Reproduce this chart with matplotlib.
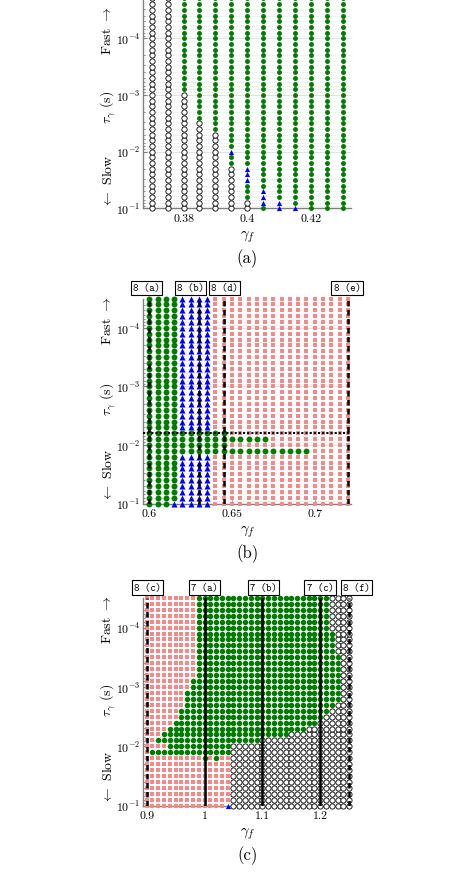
import numpy as np
import matplotlib
matplotlib.use("Agg")
import matplotlib.pyplot as plt
import matplotlib.transforms as mtransforms
from matplotlib.ticker import FixedLocator, FixedFormatter, LogLocator, NullFormatter

plt.rcParams["font.family"] = ["cmr10", "DejaVu Serif"]
plt.rcParams["mathtext.fontset"] = "cm"
plt.rcParams["axes.formatter.use_mathtext"] = True
plt.rcParams["axes.unicode_minus"] = False

GREEN = "#007d00"
BLUE = "#0000ff"
PINK = "#f28a8a"

# gamma_f columns of each sweep
GAMMA_A = [0.370, 0.375, 0.380, 0.385, 0.390, 0.395, 0.400, 0.405, 0.410,
           0.415, 0.420, 0.425, 0.430]
GAMMA_B = [0.600, 0.605, 0.610, 0.615, 0.620, 0.625, 0.630, 0.635, 0.640,
           0.645, 0.650, 0.655, 0.660, 0.665, 0.670, 0.675, 0.680, 0.685,
           0.690, 0.695, 0.700, 0.705, 0.710, 0.715, 0.720]
GAMMA_C = [0.90, 0.91, 0.92, 0.93, 0.94, 0.95, 0.96, 0.97, 0.98, 0.99,
           1.00, 1.01, 1.02, 1.03, 1.04, 1.05, 1.06, 1.07, 1.08, 1.09,
           1.10, 1.11, 1.12, 1.13, 1.14, 1.15, 1.16, 1.17, 1.18, 1.19,
           1.20, 1.21, 1.22, 1.23, 1.24, 1.25]

# tau_gamma rows (log10 of seconds), bottom row first
TAU_EXP_BC = [-1.0, -1.1, -1.2, -1.3, -1.4, -1.5, -1.6, -1.7, -1.8, -1.9,
              -2.0, -2.1, -2.2, -2.3, -2.4, -2.5, -2.6, -2.7, -2.8, -2.9,
              -3.0, -3.1, -3.2, -3.3, -3.4, -3.5, -3.6, -3.7, -3.8, -3.9,
              -4.0, -4.1, -4.2, -4.3, -4.4, -4.5]
TAU_EXP_A = TAU_EXP_BC + [-4.6, -4.7]

# outcome maps, top row first: (number of rows, states per column)
# o = open circle, g = green dot, b = blue triangle, p = pink square
MAP_A = [
    (17, "ooggggggggggg"),
    (5, "ooogggggggggg"),
    (2, "ooooggggggggg"),
    (3, "ooooogggggggg"),
    (1, "ooooobggggggg"),
    (2, "ooooogggggggg"),
    (3, "oooooobgggggg"),
    (1, "ooooooggggggg"),
    (2, "oooooogbggggg"),
    (1, "ooooooobbgggg"),
    (1, "ooooooogbbggg"),
]
MAP_B = [
    (23, "gggg" + "bbbb" + "p" * 17),
    (1, "g" * 10 + "p" * 15),
    (1, "g" * 15 + "p" * 10),
    (1, "g" * 10 + "p" * 15),
    (1, "g" * 20 + "p" * 5),
    (8, "gggg" + "bbbb" + "p" * 17),
    (1, "ggg" + "bbbbb" + "p" * 17),
]
MAP_C = [
    (6, "p" * 9 + "g" * 23 + "o" * 4),
    (4, "p" * 9 + "g" * 24 + "o" * 3),
    (4, "p" * 9 + "g" * 25 + "o" * 2),
    (2, "p" * 8 + "g" * 26 + "o" * 2),
    (2, "p" * 7 + "g" * 27 + "o" * 2),
    (1, "p" * 7 + "g" * 26 + "o" * 3),
    (1, "p" * 6 + "g" * 26 + "o" * 4),
    (1, "p" * 6 + "g" * 25 + "o" * 5),
    (1, "p" * 5 + "g" * 25 + "o" * 6),
    (1, "p" * 4 + "g" * 24 + "o" * 8),
    (1, "p" * 3 + "g" * 22 + "o" * 11),
    (1, "p" * 2 + "g" * 18 + "o" * 16),
    (1, "p" * 4 + "g" * 11 + "o" * 21),
    (1, "p" + "g" * 14 + "o" * 21),
    (1, "p" * 10 + "g" + "p" + "g" + "pp" + "o" * 21),
    (7, "p" * 15 + "o" * 21),
    (1, "p" * 14 + "b" + "o" * 21),
]

# reference lines: (gamma_f, style, box label, box position)
LINES_B = [(0.600, "dash", "8 (a)", 0.5984), (0.630, "dash", "8 (b)", 0.6249),
           (0.645, "dash", "8 (d)", 0.6456), (0.720, "dash", "8 (e)", 0.7195)]
HLINE_B = -2.2
LINES_C = [(0.90, "dash", "8 (c)", 0.9014), (1.00, "solid", "7 (a)", 1.0),
           (1.10, "solid", "7 (b)", 1.1015), (1.20, "solid", "7 (c)", 1.1995),
           (1.25, "dash", "8 (f)", 1.2625)]

STYLE = {
    "o": dict(marker="o", facecolors="white", edgecolors="black", linewidths=0.6),
    "g": dict(marker="o", c=GREEN, linewidths=0),
    "b": dict(marker="^", c=BLUE, linewidths=0),
    "p": dict(marker="s", c=PINK, linewidths=0),
}


def draw_map(ax, gammas, tau_exp, rows, sizes):
    grid = []
    for n, r in rows:
        grid += [r] * n
    grid = grid[::-1]
    assert len(grid) == len(tau_exp)
    tau = 10.0 ** np.array(tau_exp)
    for state in "opbg":
        xs, ys = [], []
        for k, r in enumerate(grid):
            assert len(r) == len(gammas), r
            for i, c in enumerate(r):
                if c == state:
                    xs.append(gammas[i])
                    ys.append(tau[k])
        if xs:
            ax.scatter(xs, ys, s=sizes[state], clip_on=False, zorder=3,
                       **STYLE[state])


def setup_axes(ax, xlim, xticks, xlabels, ytop, tag):
    ax.set_yscale("log")
    ax.set_xlim(*xlim)
    ax.set_ylim(1e-1, ytop)
    ax.xaxis.set_major_locator(FixedLocator(xticks))
    ax.xaxis.set_major_formatter(FixedFormatter(xlabels))
    ax.yaxis.set_major_locator(LogLocator(base=10, numticks=10))
    ax.yaxis.set_minor_locator(LogLocator(base=10, subs=np.arange(2, 10), numticks=10))
    ax.yaxis.set_minor_formatter(NullFormatter())
    for side in ("top", "right"):
        ax.spines[side].set_visible(False)
    for side in ("left", "bottom"):
        ax.spines[side].set_color("#808080")
        ax.spines[side].set_linewidth(1.0)
    ax.tick_params(which="both", direction="in", color="#808080", labelsize=8.5)
    ax.tick_params(axis="y", which="major", length=3, pad=2)
    ax.tick_params(axis="y", which="minor", length=1.5)
    ax.tick_params(axis="x", which="major", length=3, pad=3.5)
    ax.grid(which="major", axis="y", color="#d4d4d4", lw=0.5)
    ax.grid(which="minor", axis="y", color="#d4d4d4", lw=0.5, ls=":")
    ax.set_axisbelow(True)

    trans = mtransforms.blended_transform_factory(ax.transAxes, ax.transData)
    ax.text(-0.171, 10 ** -4.15, "Fast $\\rightarrow$", rotation=90, ha="center",
            va="center", fontsize=10, transform=trans)
    ax.text(-0.171, 10 ** -2.8, "$\\tau_\\gamma$ (s)", rotation=90, ha="center",
            va="center", fontsize=10, transform=trans)
    ax.text(-0.171, 10 ** -1.5, "$\\leftarrow$ Slow", rotation=90, ha="center",
            va="center", fontsize=10, transform=trans)

    ax.annotate("$\\gamma_f$", xy=(0.5, 0), xycoords="axes fraction",
                xytext=(0, -20), textcoords="offset points", ha="center",
                va="center", fontsize=10.5)
    ax.annotate(tag, xy=(0.5, 0), xycoords="axes fraction",
                xytext=(0, -35.5), textcoords="offset points", ha="center",
                va="center", fontsize=12)


def draw_lines(ax, lines):
    trans = mtransforms.blended_transform_factory(ax.transData, ax.transAxes)
    for x, style, label, xbox in lines:
        if style == "dash":
            ax.axvline(x, color="black", lw=1.8, ls=(0, (2.2, 1.4)), zorder=4)
        else:
            ax.axvline(x, color="black", lw=1.8, zorder=4)
        ax.annotate(label, xy=(xbox, 1), xycoords=trans, xytext=(0, 7.5),
                    textcoords="offset points", ha="center", va="center",
                    family="cmtt10", fontsize=7.4, annotation_clip=False,
                    bbox=dict(boxstyle="square,pad=0.22", fc="white",
                              ec="black", lw=0.8))


fig = plt.figure(figsize=(4.74, 8.79), dpi=100)

ax_a = fig.add_axes([0.3027, 0.7619, 0.4388, 0.2419])
setup_axes(ax_a, (0.3674, 0.4328), [0.38, 0.40, 0.42], ["0.38", "0.4", "0.42"],
           10 ** -4.75, "(a)")
draw_map(ax_a, GAMMA_A, TAU_EXP_A, MAP_A, {"o": 14.5, "g": 12.5, "b": 14, "p": 9})

ax_b = fig.add_axes([0.3027, 0.4260, 0.4388, 0.2332])
setup_axes(ax_b, (0.5965, 0.7222), [0.60, 0.65, 0.70], ["0.6", "0.65", "0.7"],
           10 ** -4.5, "(b)")
draw_map(ax_b, GAMMA_B, TAU_EXP_BC, MAP_B, {"o": 15, "g": 18, "b": 19, "p": 9.5})
draw_lines(ax_b, LINES_B)
ax_b.axhline(10 ** HLINE_B, color="black", lw=1.5, ls=(0, (1, 1)), zorder=4)

ax_c = fig.add_axes([0.3027, 0.0823, 0.4388, 0.2363])
setup_axes(ax_c, (0.8945, 1.254), [0.9, 1.0, 1.1, 1.2], ["0.9", "1", "1.1", "1.2"],
           10 ** -4.5, "(c)")
draw_map(ax_c, GAMMA_C, TAU_EXP_BC, MAP_C, {"o": 14, "g": 15.5, "b": 14, "p": 7.5})
draw_lines(ax_c, LINES_C)

fig.savefig("out.png", dpi=100)
